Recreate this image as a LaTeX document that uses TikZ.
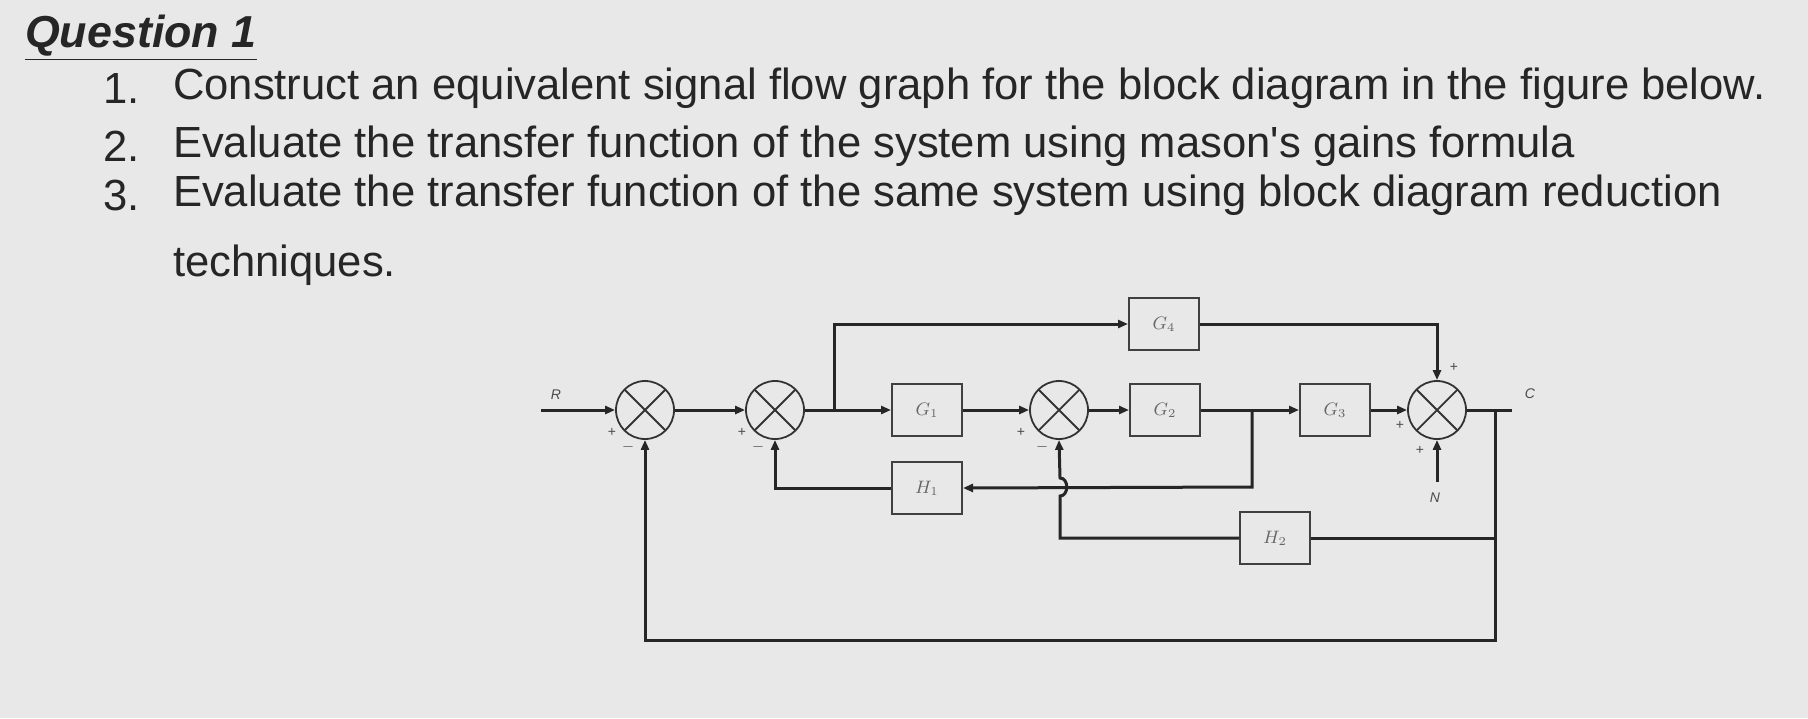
\documentclass[tikz,border=0pt]{standalone}
\usepackage{fontspec}
\setmainfont{Liberation Sans}[Ligatures=TeXOff]
\usetikzlibrary{arrows.meta}
\begin{document}
\begin{tikzpicture}[x=0.5pt,y=-0.5pt,
  line/.style={line width=1.5pt,draw=black!85},
  arr/.style={line,-{Triangle[length=5pt,width=4pt]}},
  blk/.style={draw=black!75,line width=1pt,minimum width=35pt,minimum height=26pt,inner sep=0pt,font=\small,text=black!60},
  sumj/.style={circle,draw=black!80,line width=0.9pt,minimum size=29pt,inner sep=0pt,
    path picture={\draw[black!80,line width=0.9pt] (path picture bounding box.south west)--(path picture bounding box.north east) (path picture bounding box.north west)--(path picture bounding box.south east);}},
  sgn/.style={font=\scriptsize,text=black!70},
  qtext/.style={anchor=west,font=\fontsize{21.8pt}{23pt}\selectfont,text=black!85}]
\useasboundingbox (0,0) rectangle (1808,718);
\fill[gray!18] (0,0) rectangle (1808,718);
% text
\node[anchor=west,font=\fontsize{22.4pt}{24pt}\selectfont\bfseries\itshape,text=black!85] (q) at (18,38) {\underline{Question 1}};
\node[qtext] (n1) at (96,88) {1.};
\node[qtext] (t1) at (166,88) {Construct an equivalent signal flow graph for the block diagram in the figure below.};
\node[qtext] (n2) at (96,146) {2.};
\node[qtext] (t2) at (166,146) {Evaluate the transfer function of the system using mason's gains formula};
\node[qtext] (n3) at (96,195) {3.};
\node[qtext] (t3) at (166,195) {Evaluate the transfer function of the same system using block diagram reduction};
\node[qtext] (t4) at (166,265) {techniques.};
% diagram
\node[sumj] (s1) at (645,410) {};
\node[sumj] (s2) at (775,410) {};
\node[sumj] (s3) at (1059,410) {};
\node[sumj] (s4) at (1437,410) {};
\node[blk] (g1) at (927,410) {$G_1$};
\node[blk] (g2) at (1165,410) {$G_2$};
\node[blk] (g3) at (1335,410) {$G_3$};
\node[blk] (g4) at (1164,324) {$G_4$};
\node[blk] (h1) at (927,488) {$H_1$};
\node[blk] (h2) at (1275,538) {$H_2$};
\coordinate (r) at (541,410);
\coordinate (c) at (1512,410);
\coordinate (n) at (1437,482);
\coordinate (tp1) at (834,410);
\coordinate (tp2) at (1252,410);
\coordinate (tp3) at (1495,410);
\coordinate (bot) at (1495,640);
\node[font=\scriptsize\itshape,text=black!70] (rl) at (556,395) {R};
\node[font=\scriptsize\itshape,text=black!70] (cl) at (1530,394) {C};
\node[font=\scriptsize\itshape,text=black!70] (nl) at (1435,498) {N};
\draw[arr] (r) -- (s1.west);
\draw[arr] (s1.east) -- (s2.west);
\draw[arr] (s2.east) -- (g1.west);
\draw[arr] (tp1) |- (g4.west);
\draw[arr] (g1.east) -- (s3.west);
\draw[arr] (s3.east) -- (g2.west);
\draw[arr] (g2.east) -- (g3.west);
\draw[arr] (g3.east) -- (s4.west);
\draw[arr] (g4.east) -| (s4.north);
\draw[line] (s4.east) -- (c);
\draw[arr] (tp3) -- (bot) -| (s1.south);
\draw[line] (tp3 |- h2.east) -- (h2.east);
\draw[arr] (h2.west) -- (1060,538) -- (1060,496) .. controls (1069,496) and (1069,478) .. (1060,478) -- (s3.south);
\draw[arr] (tp2) -- (1252,487) -- (h1.east);
\draw[arr] (h1.west) -| (s2.south);
\draw[arr] (n) -- (s4.south);
% signs
\node[sgn] at (612,432) {+};
\node[sgn] at (628,447) {$-$};
\node[sgn] at (742,432) {+};
\node[sgn] at (758,447) {$-$};
\node[sgn] at (1021,432) {+};
\node[sgn] at (1042,447) {$-$};
\node[sgn] at (1454,367) {+};
\node[sgn] at (1400,425) {+};
\node[sgn] at (1420,450) {+};
\end{tikzpicture}
\end{document}
